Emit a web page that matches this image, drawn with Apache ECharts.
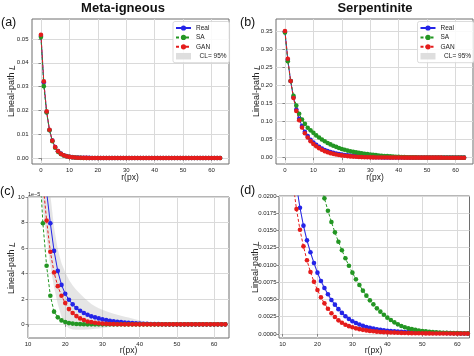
<!DOCTYPE html>
<html><head><meta charset="utf-8">
<script src="https://cdn.jsdelivr.net/npm/echarts@6.0.0/dist/echarts.min.js"></script>
<style>html,body{margin:0;padding:0;background:#fff}#c{width:474px;height:356px}</style>
</head><body><div id="c"></div>
<script>
// r (px) lag values
const rs = [0,1,2,3,4,5,6,7,8,9,10,11,12,13,14,15,16,17,18,19,20,21,22,23,24,25,26,27,28,29,30,31,32,33,34,35,36,37,38,39,40,41,42,43,44,45,46,47,48,49,50,51,52,53,54,55,56,57,58,59,60,61,62,63];

// Meta-igneous
const metaReal = [0.0513,0.0318,0.0193,0.0118,0.0073,0.0046,0.0029,0.00185,0.0012,0.0008,
  0.00054,0.00037,0.00026,0.000185,0.000135,0.000104,7.94e-5,5.77e-5,4.2e-5,3.1e-5,
  2.4e-5,1.93e-5,1.57e-5,1.28e-5,1.07e-5,8.9e-6,7.6e-6,6.3e-6,5.5e-6,4.7e-6,
  3.9e-6,3.4e-6,2.9e-6,2.5e-6,2.1e-6,1.8e-6,1.5e-6,1.2e-6,1.0e-6,8e-7,
  6e-7,5e-7,4e-7,3e-7,2e-7,2e-7,1e-7,1e-7,0,0,
  0,0,0,0,0,0,0,0,0,0,0,0,0,0];
const metaSA = [0.0508,0.0302,0.0191,0.0117,0.0071,0.0043,0.0026,0.00165,0.0011,0.00075,
  0.0005,0.00033,0.00021,0.00013,7.94e-5,4.6e-5,2.25e-5,1.0e-5,5.5e-6,3.1e-6,
  1.8e-6,1.0e-6,6e-7,3e-7,2e-7,1e-7,0,0,0,0,
  0,0,0,0,0,0,0,0,0,0,0,0,0,0,0,0,0,0,0,0,0,0,0,0,0,0,0,0,0,0,0,0,0,0];
const metaGAN = [0.0518,0.0322,0.0196,0.0119,0.0073,0.0046,0.0029,0.00182,0.00116,0.00075,
  0.00049,0.00033,0.00022,0.000155,0.000112,8.15e-5,5.7e-5,4.07e-5,3.0e-5,2.25e-5,
  1.67e-5,1.2e-5,8.9e-6,6.5e-6,4.7e-6,3.4e-6,2.3e-6,1.8e-6,1.3e-6,9e-7,
  6e-7,4e-7,3e-7,2e-7,1e-7,1e-7,0,0,0,0,
  0,0,0,0,0,0,0,0,0,0,0,0,0,0,0,0,0,0,0,0,0,0,0,0];
const metaCiHi = [0.0530,0.0335,0.0205,0.0127,0.0080,0.0051,0.0033,0.0021,0.00142,0.00097,
  0.00067,0.00047,0.00034,0.00028,0.00019,1.35e-4,1.02e-4,7.6e-5,5.9e-5,4.8e-5,
  4.1e-5,3.5e-5,3.05e-5,2.7e-5,2.4e-5,2.1e-5,1.85e-5,1.6e-5,1.42e-5,1.27e-5,
  1.15e-5,1.03e-5,9.3e-6,8.4e-6,7.6e-6,6.8e-6,6.0e-6,5.3e-6,4.6e-6,3.9e-6,
  3.2e-6,2.5e-6,1.8e-6,1.2e-6,8e-7,5e-7,3e-7,1e-7,0,0,
  0,0,0,0,0,0,0,0,0,0,0,0,0,0];
const metaCiLo = [0.0496,0.0301,0.0181,0.0109,0.0066,0.0041,0.0025,0.0016,0.00098,0.00063,
  0.00041,0.00027,0.00018,0.00012,9e-5,6.8e-5,4.6e-5,2.9e-5,1.6e-5,6e-6,
  -5e-7,-3e-6,-4e-6,-4.2e-6,-4.2e-6,-4.2e-6,-4e-6,-3.8e-6,-3.5e-6,-3.2e-6,
  -2.8e-6,-2.4e-6,-2e-6,-1.7e-6,-1.4e-6,-1.1e-6,-9e-7,-7e-7,-5e-7,-4e-7,
  -3e-7,-2e-7,-1e-7,-1e-7,0,0,0,0,0,0,
  0,0,0,0,0,0,0,0,0,0,0,0,0,0];

// Serpentinite
const serpReal = [0.350,0.272,0.213,0.168,0.134,0.108,0.088,0.072,0.060,0.050,
  0.042,0.0355,0.030,0.0254,0.0215,0.0183,0.0157,0.01357,0.01184,0.01029,
  0.00889,0.00768,0.00667,0.00575,0.00493,0.00425,0.0036,0.00306,0.00258,0.00218,
  0.00185,0.0016,0.00137,0.00118,0.00102,0.00089,0.00078,0.00069,0.00061,0.00054,
  0.00048,0.00043,0.00039,0.00035,0.00032,0.00029,0.00027,0.00025,0.00023,0.00021,
  0.0002,0.00019,0.00018,0.00017,0.00016,0.00015,0.00014,0.00013,0.00012,0.00011,
  0.0001,0.00009,0.00008,0.00008];
const serpSA = [0.348,0.268,0.213,0.172,0.145,0.122,0.106,0.094,0.083,0.076,
  0.069,0.062,0.056,0.0505,0.0455,0.041,0.037,0.0334,0.0301,0.0271,
  0.0243,0.0219,0.01966,0.01787,0.01623,0.01473,0.01338,0.01213,0.01097,0.0099,
  0.00889,0.00792,0.0071,0.00628,0.00556,0.00488,0.0043,0.00372,0.00324,0.0028,
  0.00237,0.00203,0.00169,0.0014,0.00116,0.00097,0.00082,0.0007,0.0006,0.00051,
  0.00044,0.00038,0.00033,0.00028,0.00025,0.00022,0.00019,0.00017,0.00015,0.00013,
  0.00012,0.00011,0.0001,0.00009];
const serpGAN = [0.352,0.275,0.213,0.166,0.130,0.104,0.084,0.068,0.056,0.046,
  0.038,0.0318,0.0265,0.0219,0.0181,0.0151,0.0127,0.01068,0.00899,0.00758,
  0.00638,0.00531,0.00444,0.00367,0.003,0.00246,0.00198,0.00164,0.00135,0.00114,
  0.00097,0.00082,0.0007,0.0006,0.00052,0.00045,0.00039,0.00034,0.0003,0.00027,
  0.00024,0.00022,0.0002,0.00018,0.00016,0.00014,0.00013,0.00012,0.00011,0.0001,
  0.0001,0.00009,0.00009,0.00008,0.00008,0.00008,0.00007,0.00007,0.00007,0.00006,
  0.00006,0.00006,0.00006,0.00006];
const serpCiHalf = [0.004,0.004,0.003,0.003,0.002,0.002,0.0015,0.0012,0.001,0.0009,
  0.0008,0.0007,0.0006,0.0005,0.00045,0.0004,0.0004,0.0004,0.00035,0.00035,
  0.0003,0.0003,0.0003,0.0003,0.0003,0.00025,0.00025,0.00025,0.00025,0.00025,
  0.0002,0.0002,0.0002,0.0002,0.0002,0.0002,0.0002,0.0002,0.0002,0.0002,
  0.0001,0.0001,0.0001,0.0001,0.0001,0.0001,0.0001,0.0001,0.0001,0.0001,
  0.00008,0.00008,0.00008,0.00008,0.00008,0.00008,0.00008,0.00008,0.00008,0.00008,
  0.00008,0.00008,0.00008,0.00008];

// tick labels
const xTicksFull = [0,10,20,30,40,50,60];
const xTicksZoom = [10,20,30,40,50,60];
const yTicksA = [0,0.01,0.02,0.03,0.04,0.05];
const yTicksB = [0,0.05,0.1,0.15,0.2,0.25,0.3,0.35];
const yTicksC = [0,2e-5,4e-5,6e-5,8e-5,1e-4];
const yTicksD = [0,0.0025,0.005,0.0075,0.01,0.0125,0.015,0.0175,0.02];
const seriesNames = ['Real','SA','GAN','CL= 95%'];
const titles = ['Meta-igneous','Serpentinite'];
const panelTags = ['(a)','(b)','(c)','(d)'];

const FONT = '"Liberation Sans", Arial, sans-serif';
const C_REAL = '#2424e8', C_SA = '#239623', C_GAN = '#e41c1c';
const GRIDC = '#dadada', FRAME = '#6e6e6e', TXT = '#222';

const chart = echarts.init(document.getElementById('c'), null, {renderer:'canvas', width:474, height:356});

const gridBoxes = [
  {left:32, top:19, width:197, height:145},
  {left:276, top:19, width:197, height:145},
  {left:28, top:197, width:201, height:141},
  {left:279, top:196, width:190.5, height:142}
];

function xAx(gi, min, max, ticks) {
  return {type:'value', gridIndex:gi, min, max,
    axisLine:{show:false},
    axisTick:{show:true, length:2.5, inside:false, customValues:ticks, lineStyle:{color:FRAME, width:0.8}},
    axisLabel:{customValues:ticks, fontSize:6, color:TXT, margin:3.5, fontFamily:FONT,
      formatter: v => String(Math.round(v))},
    splitLine:{show:true, lineStyle:{color:GRIDC, width:1}}};
}
function yAx(gi, min, max, ticks, fmt, margin) {
  return {type:'value', gridIndex:gi, min, max,
    axisLine:{show:false},
    axisTick:{show:true, length:2.5, customValues:ticks, lineStyle:{color:FRAME, width:0.8}},
    axisLabel:{customValues:ticks, fontSize:6, color:TXT, margin:margin, fontFamily:FONT, formatter: fmt},
    splitLine:{show:true, lineStyle:{color:GRIDC, width:1}}};
}

function band(gi, lo, hi, color) {
  return {type:'custom', name:'CL= 95%', xAxisIndex:gi, yAxisIndex:gi, clip:true, silent:true, z:1,
    data: rs.map((r,i)=>[r, lo[i], hi[i]]),
    encode:{x:0, y:[1,2]},
    renderItem(params, api) {
      if (params.dataIndex !== 0) return null;
      const up = [], dn = [];
      for (let i = 0; i < rs.length; i++) {
        up.push(api.coord([rs[i], hi[i]]));
        dn.push(api.coord([rs[i], lo[i]]));
      }
      return {type:'polygon', shape:{points: up.concat(dn.reverse())}, style:{fill:color}};
    }};
}
function ln(gi, name, vals, color, dashed) {
  return {type:'line', name, xAxisIndex:gi, yAxisIndex:gi,
    data: rs.map((r,i)=>[r, vals[i]]),
    symbol:'circle', symbolSize:4.6, showSymbol:true, clip:true, z:2,
    lineStyle:{color, width:1, type: dashed ? [3,2] : 'solid'},
    itemStyle:{color}, emphasis:{disabled:true}};
}

const serpLo = serpReal.map((v,i)=>v - serpCiHalf[i]);
const serpHi = serpReal.map((v,i)=>v + serpCiHalf[i]);

const series = [];
[[0,'meta'],[1,'serp'],[2,'meta'],[3,'serp']].forEach(([gi, k]) => {
  if (k === 'meta') {
    series.push(band(gi, metaCiLo, metaCiHi, 'rgba(175,175,175,0.32)'));
    series.push(ln(gi, 'Real', metaReal, C_REAL, false));
    series.push(ln(gi, 'SA', metaSA, C_SA, true));
    series.push(ln(gi, 'GAN', metaGAN, C_GAN, true));
  } else {
    series.push(band(gi, serpLo, serpHi, 'rgba(165,165,200,0.35)'));
    series.push(ln(gi, 'Real', serpReal, C_REAL, false));
    series.push(ln(gi, 'SA', serpSA, C_SA, true));
    series.push(ln(gi, 'GAN', serpGAN, C_GAN, true));
  }
});

function legend(left) {
  return {left, top:21.5, orient:'vertical', selectedMode:false,
    itemWidth:15, itemHeight:6.5, itemGap:2.4, padding:[3,3,3,2],
    borderColor:'#d2d2d2', borderWidth:0.8, borderRadius:2, backgroundColor:'rgba(255,255,255,0.85)',
    textStyle:{fontSize:6.5, fontFamily:FONT, color:TXT},
    formatter: n => n === 'CL= 95%' ? '  ' + n : n,
    data:[seriesNames[0], seriesNames[1], seriesNames[2],
      {name:seriesNames[3], icon:'rect', itemStyle:{color:'#dedede', borderWidth:0}}]};
}

function ylabel(x, y) {
  return {type:'text', x, y, rotation:Math.PI/2,
    style:{text:'{a|Lineal-path }{b|L}', align:'center', verticalAlign:'middle', fill:TXT,
      rich:{a:{fontSize:9, fontFamily:FONT, fill:TXT}, b:{fontSize:9, fontFamily:FONT, fontStyle:'italic', fill:TXT}}}};
}
function xlabel(x, y) {
  return {type:'text', x, y, style:{text:'r(px)', font:'8.5px ' + FONT, fill:TXT, align:'center', verticalAlign:'middle'}};
}
function tag(x, y, t) {
  return {type:'text', x, y, style:{text:t, font:'12.5px ' + FONT, fill:'#111', align:'left', verticalAlign:'middle'}};
}

const option = {
  animation:false,
  backgroundColor:'#fff',
  grid: gridBoxes.map(g => Object.assign({show:true, borderColor:FRAME, borderWidth:1, backgroundColor:'transparent'}, g)),
  xAxis: [
    xAx(0, -3.15, 66.15, xTicksFull),
    xAx(1, -3.15, 66.15, xTicksFull),
    xAx(2, 10, 64, xTicksZoom),
    xAx(3, 9, 63.5, xTicksZoom)
  ],
  yAxis: [
    yAx(0, -0.0025, 0.0584, yTicksA, v => v.toFixed(2), 3.5),
    yAx(1, -0.0175, 0.3853, yTicksB, v => v.toFixed(2), 3.5),
    yAx(2, -1.07e-5, 1e-4, yTicksC, v => String(Math.round(v / 1e-5)), 3.5),
    yAx(3, -0.00058, 0.02, yTicksD, v => v.toFixed(4), 2.5)
  ],
  legend: [legend(173), legend(417.5)],
  series,
  graphic: [
    {type:'text', x:123, y:8, style:{text:titles[0], font:'bold 13px ' + FONT, fill:'#111', align:'center', verticalAlign:'middle'}},
    {type:'text', x:375, y:8, style:{text:titles[1], font:'bold 13px ' + FONT, fill:'#111', align:'center', verticalAlign:'middle'}},
    tag(1, 22.5, panelTags[0]), tag(240, 22.5, panelTags[1]), tag(0, 192, panelTags[2]), tag(240, 191, panelTags[3]),
    ylabel(12, 91), ylabel(257, 91), ylabel(12, 268), ylabel(256, 267),
    xlabel(130, 178), xlabel(375, 178), xlabel(128.5, 350.5), xlabel(373.5, 350.5),
    {type:'text', x:28, y:194, style:{text:'1e\u22125', font:'5.5px ' + FONT, fill:TXT, align:'left', verticalAlign:'middle'}}
  ]
};
chart.setOption(option);
</script>
</body></html>
